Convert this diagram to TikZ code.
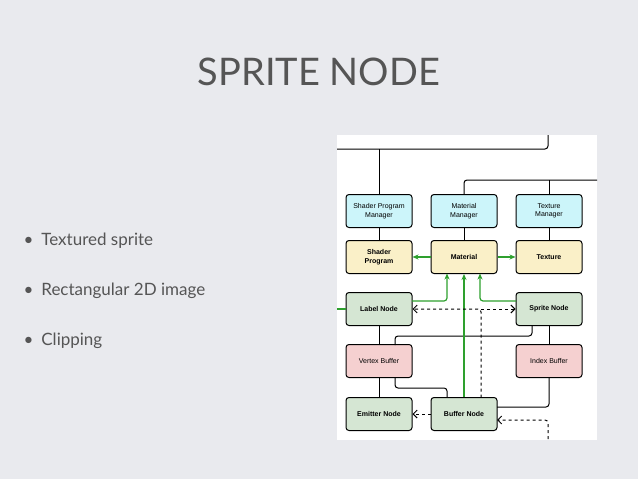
\documentclass[tikz,border=0pt]{standalone}
\usepackage{fontspec}
\setmainfont{Lato}
\newfontfamily\diag{Liberation Sans}
\usetikzlibrary{arrows.meta}
\definecolor{bgc}{HTML}{E9EAEE}
\definecolor{txt}{HTML}{555555}
\definecolor{cmgr}{HTML}{CCF5FA}
\definecolor{cres}{HTML}{FAF0C8}
\definecolor{cnode}{HTML}{D5E6D3}
\definecolor{cbuf}{HTML}{F5D0D0}
\definecolor{gr}{HTML}{2EA02E}
\begin{document}
\begin{tikzpicture}[x=1pt,y=-1pt,
  box/.style={draw=black,line width=1pt,rounded corners=3pt,minimum width=66pt,minimum height=33pt,
    inner sep=1pt,align=center,font=\diag\fontsize{7}{8.5}\selectfont},
  mgr/.style={box,fill=cmgr},
  res/.style={box,fill=cres,font=\diag\bfseries\fontsize{7}{8.5}\selectfont},
  nd/.style={box,fill=cnode,font=\diag\bfseries\fontsize{7}{8.5}\selectfont},
  buf/.style={box,fill=cbuf},
  wire/.style={draw=black,line width=1pt,rounded corners=3pt},
  gw/.style={draw=gr,line width=1.2pt,rounded corners=3pt,-{Stealth[length=6pt,width=5pt]}},
  dw/.style={draw=black,line width=1pt,dashed,-{Straight Barb[open,length=4pt]}},
  bul/.style={anchor=west,text=txt,font=\fontsize{17}{20}\selectfont}]
\fill[bgc] (0,0) rectangle (638,479);
\fill[white] (337,135) rectangle (597,440);
\node[text=txt,font=\fontsize{38}{44}\selectfont] (title) at (319,72) {SPRITE NODE};
\node[bul] (b1) at (20,241) {\textbullet\hspace{8pt}Textured sprite};
\node[bul] (b2) at (20,291) {\textbullet\hspace{8pt}Rectangular 2D image};
\node[bul] (b3) at (20,341) {\textbullet\hspace{8pt}Clipping};
\begin{scope}
\clip (337,135) rectangle (597,440);
\node[mgr] (spm) at (379,211) {Shader Program\\Manager};
\node[mgr] (mm) at (464,211) {Material\\Manager};
\node[mgr] (tm) at (549,211) {Texture\\Manager};
\node[res] (sp) at (379,257) {Shader\\Program};
\node[res] (mat) at (464,257) {Material};
\node[res] (tex) at (549,257) {Texture};
\node[nd] (ln) at (379,309) {Label Node};
\node[nd] (sn) at (549,309) {Sprite Node};
\node[buf] (vb) at (379,361) {Vertex Buffer};
\node[buf] (ib) at (549,361) {Index Buffer};
\node[nd] (en) at (379,414) {Emitter Node};
\node[nd] (bn) at (464,414) {Buffer Node};
\coordinate (t1) at (548,130);
\coordinate (t2) at (330,149);
\coordinate (r1) at (605,180);
\coordinate (lg) at (330,309);
\coordinate (dd) at (548,445);
\coordinate (lo) at (412,301);
\coordinate (so) at (516,301);
\coordinate (m1) at (447,273.5);
\coordinate (m2) at (480,273.5);
% black wires
\path[wire] (t2) -- (548,149) -- (t1);
\path[wire] (379,149) -- (spm.north);
\path[wire] (r1) -- (464,180) -- (mm.north);
\path[wire] (549,180) -- (tm.north);
\path[wire] (spm) -- (sp); \path[wire] (mm) -- (mat); \path[wire] (tm) -- (tex);
\path[wire] (ln) -- (vb); \path[wire] (sn) -- (ib); \path[wire] (vb) -- (en);
\path[wire] (532,326) -- (532,336) -- (395,336) -- (395,345);
\path[wire] (395,378) -- (395,388) -- (447,388) -- (447,397.5);
\path[wire] (ib.south) -- (549,407) -- (497,407);
% green
\draw[gw] (mat) -- (sp);
\draw[gw] (mat) -- (tex);
\draw[gw] (lo) -| (m1);
\draw[gw] (so) -| (m2);
\draw[gw] (bn.north) -- (mat.south);
\draw[draw=gr,line width=1.2pt] (lg) -- (ln.west);
% dashed
\draw[dw,rounded corners=3pt] (481,397.5) |- (ln.east);
\draw[dw] (481,309) -- (sn.west);
\draw[dw] (bn) -- (en);
\draw[dw,rounded corners=3pt] (dd) |- (497,420);
\end{scope}
\end{tikzpicture}
\end{document}
